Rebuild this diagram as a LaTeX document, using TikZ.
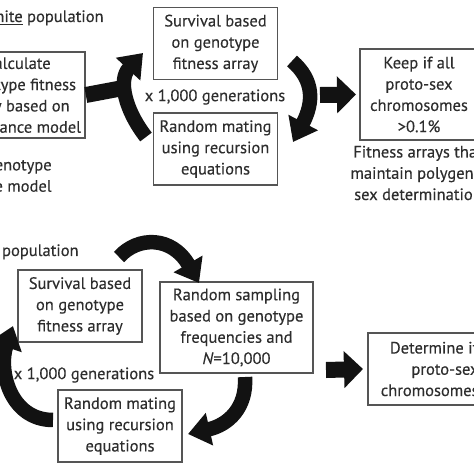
\documentclass[tikz,border=0pt]{standalone}
\usepackage{fontspec}
\setmainfont[FakeBold=0.3]{PT Sans}
\usetikzlibrary{arrows.meta}
\definecolor{boxline}{RGB}{85,85,85}
\definecolor{txtgray}{RGB}{45,45,45}
\definecolor{arrowblk}{RGB}{18,18,18}
\tikzset{
  stepbox/.style={rectangle, draw=boxline, line width=0.95pt, text=txtgray,
    align=center, inner sep=0pt, minimum width=2.48cm, minimum height=1.44cm,
    font=\fontsize{9.4}{12.1}\selectfont},
  caption/.style={text=txtgray, align=center, inner sep=0pt,
    font=\fontsize{9.4}{12.1}\selectfont},
  looparrow/.style={arrowblk, line width=0.29cm,
    -{Triangle[length=0.44cm, width=0.64cm]}},
  looplink/.style={arrowblk, line width=0.32cm},
  blockarrow/.style={arrowblk, line width=0.32cm,
    -{Triangle[length=0.38cm, width=0.72cm]}}
}

\begin{document}
\begin{tikzpicture}[x=0.02cm, y=-0.02cm]
  \useasboundingbox (0,0) rectangle (474,474);
  \clip (0,0) rectangle (474,474);

  % Infinite population
  \node[caption, anchor=east] (inftitle) at (104,18) {\underline{Infinite} population};
  \node[stepbox, minimum width=2.68cm, minimum height=1.72cm] (calcbox) at (18,95)
    {Calculate\\genotype fitness\\array based on\\dominance model};
  \node[caption, align=right, anchor=east] (calcnote) at (52,176)
    {genotype\hspace{0.1cm}\\dominance model};
  \node[stepbox] (survtop) at (215.5,43.5) {Survival based\\on genotype\\fitness array};
  \node[stepbox] (matetop) at (215.5,149) {Random mating\\using recursion\\equations};
  \node[caption] (gentop) at (215,97) {x 1,000 generations};
  \node[stepbox, minimum width=2.36cm, minimum height=1.82cm] (keepbox) at (419,94.5)
    {Keep if all\\proto-sex\\chromosomes\\>0.1\%};
  \node[caption] (keepnote) at (418,173) {Fitness arrays that\\maintain polygenic\\sex determination};

  % loop arrows (top)
  \coordinate (t1s) at (146,137);
  \coordinate (t1e) at (143,53);
  \coordinate (t1m) at (123,88);
  \coordinate (t2s) at (292,61);
  \coordinate (t2e) at (293,142);
  \draw[looparrow] (t1s) .. controls (125,110) and (118,80) .. (t1e);
  \draw[looplink] (calcbox.east) -- (t1m);
  \draw[looparrow] (t2s) .. controls (314,80) and (314,102) .. (t2e);
  \coordinate (k1s) at (320,95);
  \draw[blockarrow] (k1s) -- (keepbox.west -| 356,0);

  % Finite population
  \node[caption, anchor=east] (fintitle) at (79,252) {\underline{Finite} population};
  \node[stepbox] (survbot) at (80,306) {Survival based\\on genotype\\fitness array};
  \node[stepbox, minimum width=3.06cm, minimum height=1.82cm] (sampbox) at (236.5,327.5)
    {Random sampling\\based on genotype\\frequencies and\\\textit{N}=10,000};
  \node[stepbox] (matebot) at (120,426) {Random mating\\using recursion\\equations};
  \node[caption] (genbot) at (84,375) {x 1,000 generations};
  \node[stepbox, minimum width=3.08cm] (detbox) at (445,369)
    {Determine if all\\proto-sex\\chromosomes lost};

  % loop arrows (bottom)
  \coordinate (b1s) at (119,257);
  \coordinate (b1e) at (199,283);
  \coordinate (b2s) at (245,377);
  \coordinate (b2e) at (188,434);
  \coordinate (b3s) at (53,420);
  \coordinate (b3e) at (13,326);
  \draw[looparrow] (b1s) .. controls (138,236) and (172,236) .. (b1e);
  \draw[looparrow] (b2s) .. controls (247,408) and (228,425) .. (b2e);
  \draw[looparrow] (b3s) .. controls (10,420) and (-2,370) .. (b3e);
  \coordinate (d1s) at (326,370);
  \draw[blockarrow] (d1s) -- (detbox.west -| 363,0);
\end{tikzpicture}
\end{document}
